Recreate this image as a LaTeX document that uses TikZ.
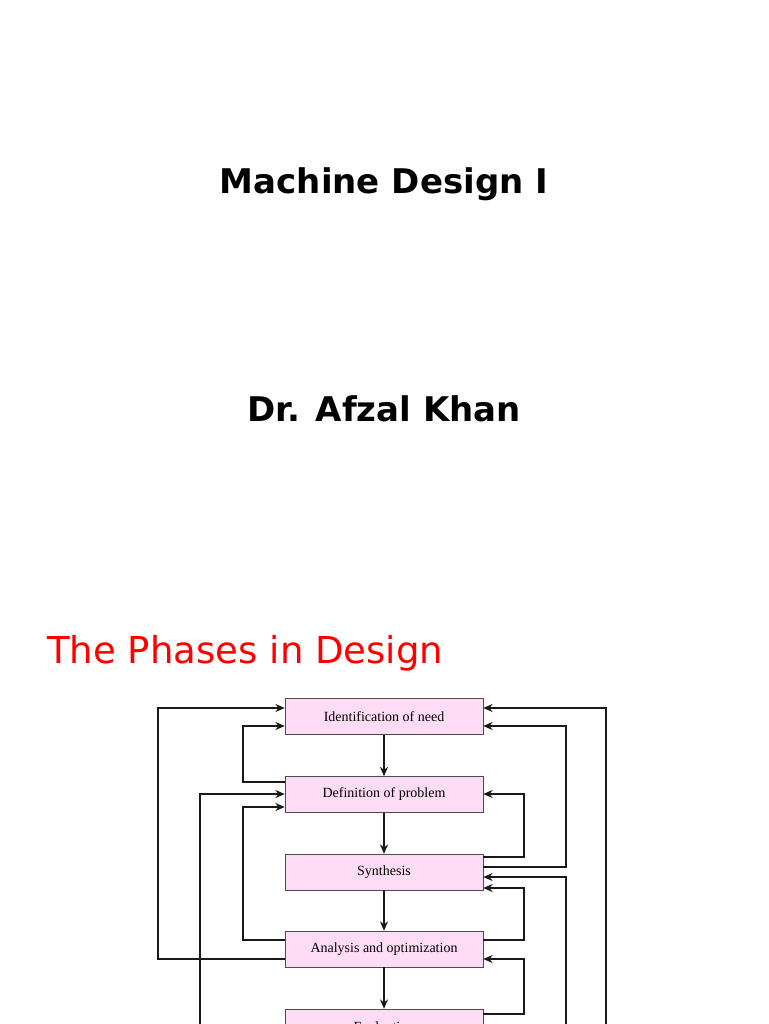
\documentclass[tikz,border=0pt]{standalone}
\usepackage{fontspec}
\setmainfont{DejaVu Sans}
\newfontfamily\boxfont{Liberation Serif}
\usetikzlibrary{arrows.meta}
\begin{document}
\begin{tikzpicture}[x=0.75pt,y=-0.75pt,
  phase/.style={draw=black!70,fill=pink!60!magenta!25,minimum width=148.5pt,minimum height=27pt,font=\boxfont\fontsize{10.5}{12}\selectfont,inner sep=0pt},
  ln/.style={line width=1.5pt,black!90,-{Stealth[length=7pt,width=6pt]}}]
\useasboundingbox (0,0) rectangle (768,1024);
\clip (0,0) rectangle (768,1024);
\node[font=\bfseries\fontsize{25.5}{30}\selectfont] (t1) at (384,184) {Machine Design I};
\node[font=\bfseries\fontsize{25.5}{30}\selectfont] (t2) at (384,409) {Dr. Afzal Khan};
\node[font=\fontsize{27.8}{32}\selectfont,text=red,anchor=west,inner sep=0pt] (t3) at (47,653) {The Phases in Design};
\node[phase] (b1) at (384,716.5) {Identification of need};
\node[phase] (b2) at (384,794.5) {Definition of problem};
\node[phase] (b3) at (384,872) {Synthesis};
\node[phase] (b4) at (384,949) {Analysis and optimization};
\node[phase] (b5) at (384,1027) {Evaluation};
\foreach \a/\b in {b1/b2,b2/b3,b3/b4,b4/b5} \draw[ln] (\a) -- (\b);
% left
\draw[ln] (b4.west |- 0,959) -| (158,708) -- (b1.west |- 0,708);
\draw[ln] (b2.west |- 0,782) -| (243,726) -- (b1.west |- 0,726);
\draw[ln] (b4.west |- 0,940) -| (243,807) -- (b2.west |- 0,807);
\coordinate (l1) at (200,1030);
\draw[ln] (l1) -- (200,794) -- (b2.west |- 0,794);
% right
\coordinate (r1) at (606,1030);
\draw[ln] (r1) -- (606,708) -- (b1.east |- 0,708);
\draw[ln] (b3.east |- 0,867) -| (566,726) -- (b1.east |- 0,726);
\draw[ln] (b3.east |- 0,857) -| (524,794) -- (b2.east |- 0,794);
\coordinate (r2) at (566,1030);
\draw[ln] (r2) -- (566,877) -- (b3.east |- 0,877);
\draw[ln] (b4.east |- 0,940) -| (524,888) -- (b3.east |- 0,888);
\draw[ln] (b5.east |- 0,1014) -| (524,959) -- (b4.east |- 0,959);
\end{tikzpicture}
\end{document}
